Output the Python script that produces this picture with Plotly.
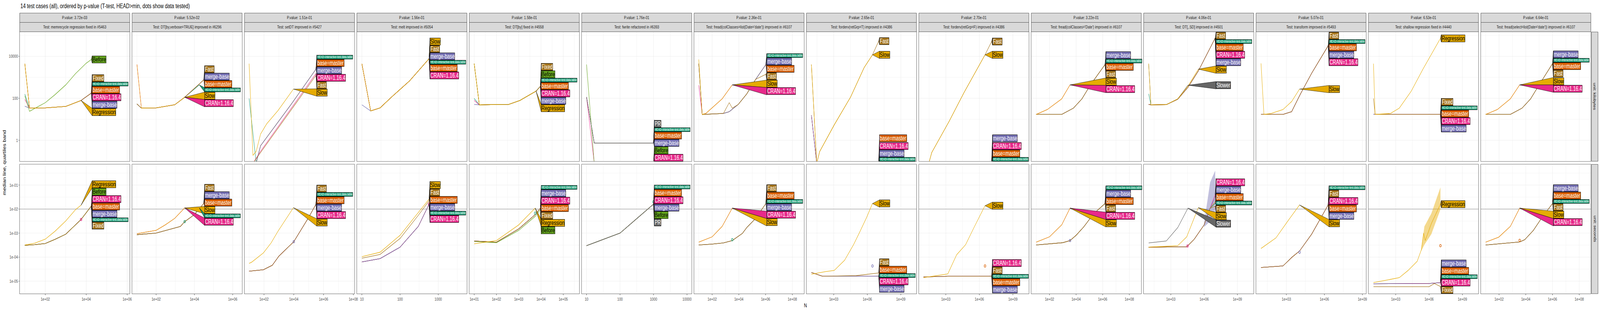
import math
import plotly.graph_objects as go

# ---------------- facet strips ----------------
pvalues = ["3.72e-03", "5.52e-02", "1.51e-01", "1.56e-01", "1.58e-01", "1.76e-01", "2.36e-01",
           "2.65e-01", "2.70e-01", "3.22e-01", "4.06e-01", "5.07e-01", "6.53e-01", "6.64e-01"]
tests = ["memrecycle regression fixed in #5463", "DT[by,verbose=TRUE] improved in #6296",
         "setDT improved in #5427", "melt improved in #5054", "DT[by] fixed in #4558",
         "fwrite refactored in #6393", "fread(colClasses=list(Date='date')) improved in #6107",
         "forderv(retGrp=T) improved in #4386", "forderv(retGrp=F) improved in #4386",
         "fread(colClasses='Date') improved in #6107", "DT[,.SD] improved in #4501",
         "transform improved in #5493", "shallow regression fixed in #4440",
         "fread(select=list(Date='date')) improved in #6107"]
row_units = ["unit: kilobytes", "unit: seconds"]

# x axis (log10 range) and ticks per column
x_ranges = [[0.75, 6.125], [0.746, 6.49], [0.69, 8.08], [0.87, 3.75], [0.78, 5.72], [0.855, 4.14],
            [0.65, 8.88], [0.56, 10.4], [0.59, 10.43], [0.63, 8.9], [0.55, 10.47], [0.61, 9.29],
            [0.55, 10.44], [0.64, 8.87]]
x_tick_exp = [[2, 4, 6], [2, 4, 6], [2, 4, 6, 8], [1, 2, 3], [1, 2, 3, 4, 5], [1, 2, 3, 4],
              [2, 4, 6, 8], [3, 6, 9], [3, 6, 9], [2, 4, 6, 8], [3, 6, 9], [3, 6, 9], [3, 6, 9],
              [2, 4, 6, 8]]
x_tick_text = [["1e+02", "1e+04", "1e+06"], ["1e+02", "1e+04", "1e+06"],
               ["1e+02", "1e+04", "1e+06", "1e+08"], ["10", "100", "1000"],
               ["1e+01", "1e+02", "1e+03", "1e+04", "1e+05"], ["10", "100", "1000", "10000"],
               ["1e+02", "1e+04", "1e+06", "1e+08"], ["1e+03", "1e+06", "1e+09"],
               ["1e+03", "1e+06", "1e+09"], ["1e+02", "1e+04", "1e+06", "1e+08"],
               ["1e+03", "1e+06", "1e+09"], ["1e+03", "1e+06", "1e+09"], ["1e+03", "1e+06", "1e+09"],
               ["1e+02", "1e+04", "1e+06", "1e+08"]]
y_ranges = [[-1.0, 5.16], [-5.52, -0.14]]
y_tick_exp = [[0, 2, 4], [-5, -4, -3, -2, -1]]
y_tick_text = [["1", "100", "10000"], ["1e-05", "1e-04", "1e-03", "1e-02", "1e-01"]]

HEAD = "HEAD=interactive-test.data.table"
BASE = "base=master"
MERGE = "merge-base"
CRAN = "CRAN=1.16.4"

# ---------------- data: N and median per series ----------------
# 1 memrecycle
p1_kb_n = [10, 17, 100, 1000, 5600, 17800]
p1_kb_head = [158, 34, 35, 41, 79, 178]
p1_kb_cran = [89, 34, 35, 41, 79, 178]
p1_kb_merge = [42, 34, 35, 41, 79, 178]
p1_kb_base = [4470, 34, 35, 41, 79, 178]
p1_kb_reg_n = [10, 17, 100, 1000, 5600]
p1_kb_reg = [4470, 34, 35, 41, 79]
p1_kb_before_n = [10, 17, 40, 100, 300, 1000, 3000, 10000, 17800]
p1_kb_before = [130, 24, 38, 62, 150, 436, 1500, 4700, 7080]
p1_sec_n = [10, 30, 100, 300, 1000, 3000, 5600, 17800]
p1_sec_all = [3.1e-4, 3.3e-4, 3.7e-4, 5.5e-4, 9e-4, 2.2e-3, 3.7e-3, 0.0134]
p1_sec_reg_n = [10, 30, 100, 300, 1000, 3000, 5600]
p1_sec_reg = [3.2e-4, 3.8e-4, 5.6e-4, 1.2e-3, 3.2e-3, 9.5e-3, 0.0145]

# 2 DT[by,verbose=TRUE]
p2_kb_slow_n = [10, 17, 100, 930, 3100]
p2_kb_slow = [4070, 34, 35, 49, 112]
p2_kb_n = [10, 17, 100, 930, 3100, 31000]
p2_kb_merge = [54, 34, 35, 49, 112, 760]
p2_kb_head_n = [10, 17, 100, 930, 3100, 18000]
p2_kb_head = [54, 34, 35, 49, 112, 436]
p2_sec_slow_n = [10, 100, 300, 930, 3100]
p2_sec_slow = [9.5e-4, 1.3e-3, 2.2e-3, 4.1e-3, 0.0112]
p2_sec_n = [10, 100, 1860, 3100, 10000, 31000]
p2_sec_all = [8.6e-4, 1.0e-3, 1.9e-3, 3.0e-3, 5.9e-3, 0.0174]
p2_sec_head_n = [10, 100, 1860, 3100, 10000, 18000]
p2_sec_head = [8.6e-4, 1.0e-3, 1.9e-3, 3.0e-3, 5.9e-3, 0.0112]

# 3 setDT
p3_kb_slow_n = [10, 18, 30, 59, 150, 870, 9500]
p3_kb_slow = [4470, 0.19, 0.3, 2.0, 6.0, 26, 275]
p3_kb_n = [10, 30, 59, 6600, 310000]
p3_kb_merge = [0.08, 0.09, 0.55, 51, 2450]
p3_kb_head = [98, 0.08, 0.55, 51, 2450]
p3_kb_fast_n = [10, 18, 59, 310000]
p3_kb_fast = [0.08, 0.08, 0.26, 1230]
p3_kb_cran = [0.08, 0.08, 0.3, 1500]
p3_sec_slow_n = [10, 15, 91, 300, 870, 9500]
p3_sec_slow = [5.5e-5, 6.2e-5, 1.5e-4, 3.9e-4, 1.2e-3, 0.0115]
p3_sec_n = [10, 91, 360, 1000, 10000, 100000, 310000]
p3_sec_all = [2.6e-5, 3e-5, 4.6e-5, 1.1e-4, 4.4e-4, 4.5e-3, 0.016]

# 4 melt
p4_kb_n = [10, 17, 30, 60, 178, 575]
p4_kb_all = [4470, 25, 35, 115, 680, 7700]
p4_kb_merge = [49, 25, 35, 115, 680, 7700]
p4_sec_n = [10, 30, 100, 300, 575]
p4_sec_slow = [1.05e-4, 1.6e-4, 8.1e-4, 7e-3, 0.026]
p4_sec_fast = [9e-5, 1.3e-4, 6e-4, 5.5e-3, 0.022]
p4_sec_all = [6.3e-5, 8.7e-5, 2.6e-4, 1.9e-3, 0.016]

# 5 DT[by]
p5_kb_reg_n = [10, 17, 350, 1130, 6000]
p5_kb_reg = [4470, 49, 51, 79, 220]
p5_kb_n = [10, 17, 350, 1130, 6000, 9400]
p5_kb_head = [98, 49, 51, 79, 220, 370]
p5_kb_cran = [79, 49, 51, 79, 220, 370]
p5_kb_merge = [51, 49, 51, 79, 220, 370]
p5_kb_base = [4470, 49, 51, 79, 220, 370]
p5_sec_reg_n = [10, 100, 1000, 5500]
p5_sec_reg = [3.6e-4, 4.9e-4, 2.2e-3, 0.011]
p5_sec_n = [10, 100, 1000, 5500, 9400]
p5_sec_all = [4.7e-4, 4.2e-4, 1.5e-3, 5.9e-3, 0.011]
p5_sec_before = [4.5e-4, 4e-4, 1.3e-3, 5e-3, 0.0095]

# 6 fwrite
p6_kb_n = [10, 17, 1000]
p6_kb_pr = [115, 0.74, 0.74]
p6_kb_before = [4070, 0.08, 0.08]
p6_kb_cran = [115, 0.08, 0.08]
p6_sec_n = [10, 100, 315, 1000]
p6_sec_all = [3e-4, 1.0e-3, 4e-3, 0.016]

# 7 fread(colClasses=list(Date='date'))
p7_kb_slow_n = [10, 18, 34, 96, 560, 3200]
p7_kb_slow = [7080, 17, 19, 34, 94, 436]
p7_kb_cran = [420, 17, 19, 34, 94, 436]
p7_kb_n = [10, 18, 700, 1900, 9000, 39000, 180000, 1050000]
p7_kb_merge = [4470, 17, 19, 23, 51, 162, 800, 4070]
p7_kb_fast_n = [10, 18, 700, 1900, 3200, 9000, 39000, 180000, 1050000]
p7_kb_fast = [4470, 17, 19, 62, 34, 51, 162, 800, 1400]
p7_sec_slow_n = [10, 100, 560, 3200]
p7_sec_slow = [4.2e-4, 7e-4, 1.9e-3, 0.011]
p7_sec_n = [10, 100, 700, 3200, 18600, 39000, 180000, 1050000]
p7_sec_all = [3.2e-4, 3.5e-4, 3.9e-4, 4.9e-4, 9.8e-4, 1.7e-3, 4.1e-3, 0.017]

# 8 forderv(retGrp=T)
p8_kb_slow_n = [10, 30, 55, 1100, 32000, 520000, 2900000]
p8_kb_slow = [4070, 0.08, 0.29, 5.4, 115, 2900, 11800]
p8_kb_fast_n = [10, 30, 55, 1100, 32000, 520000, 2900000, 10500000]
p8_kb_fast = [4070, 0.08, 0.29, 5.4, 115, 2900, 11800, 53000]
p8_kb_n = [10, 30, 10500000]
p8_kb_flat = [15.5, 0.08, 0.08]
p8_sec_slow_n = [10, 190, 1100, 9300, 59000, 190000, 890000, 2900000]
p8_sec_slow = [1.95e-5, 2.5e-5, 2.8e-5, 7.4e-5, 3.3e-4, 1.0e-3, 4.6e-3, 0.017]
p8_sec_n = [10, 100, 100000, 10500000]
p8_sec_flat = [2.3e-5, 1.6e-5, 1.6e-5, 1.6e-5]
p8_sec_fast = [2.3e-5, 1.6e-5, 1.7e-5, 2.2e-5]

# 9 forderv(retGrp=F)
p9_kb_slow_n = [10, 30, 55, 2000, 42000, 630000, 3200000]
p9_kb_slow = [0.08, 0.08, 0.26, 8.1, 186, 2450, 11800]
p9_kb_fast_n = [10, 30, 55, 2000, 42000, 630000, 3200000, 12600000]
p9_kb_fast = [0.08, 0.08, 0.26, 8.1, 186, 2450, 11800, 51000]
p9_kb_n = [10, 12600000]
p9_kb_flat = [0.08, 0.08]
p9_sec_slow_n = [10, 1500, 9300, 59000, 350000, 3200000]
p9_sec_slow = [1.4e-5, 2e-5, 1.26e-4, 3.3e-4, 1.8e-3, 0.0138]
p9_sec_n = [10, 1500, 12600000]
p9_sec_flat = [1.5e-5, 1.6e-5, 1.6e-5]

# 10 fread(colClasses='Date')
p10_kb_slow_n = [10, 68, 830, 3500]
p10_kb_slow = [17, 29, 94, 436]
p10_kb_n = [10, 830, 6300, 27500, 120000, 1500000]
p10_kb_all = [17, 17, 34, 94, 436, 4070]
p10_sec_slow_n = [10, 100, 830, 3500]
p10_sec_slow = [4.2e-4, 7e-4, 2.2e-3, 0.011]
p10_sec_n = [10, 1000, 3500, 10000, 37000, 220000, 1500000]
p10_sec_all = [3.2e-4, 4e-4, 4.9e-4, 8.1e-4, 1.8e-3, 6.6e-3, 0.017]

# 11 DT[,.SD]
p11_kb_slower_n = [10, 16, 390, 4200, 35000]
p11_kb_slower = [4470, 49, 50, 94, 420]
p11_kb_slow_n = [10, 16, 390, 4200, 35000, 300000]
p11_kb_slow = [4470, 49, 50, 94, 380, 2450]
p11_kb_n = [10, 16, 390, 4200, 35000, 300000, 10000000]
p11_kb_head = [162, 49, 50, 90, 330, 2000, 74000]
p11_kb_merge = [51, 49, 50, 90, 330, 2000, 74000]
p11_sec_slower_n = [10, 390, 4200, 35000]
p11_sec_slower = [3.9e-4, 4.7e-4, 1.7e-3, 0.011]
p11_sec_slow_n = [10, 4200, 27000, 300000]
p11_sec_slow = [2.6e-4, 3e-4, 7e-4, 0.0115]
p11_sec_n = [10, 27000, 130000, 1000000, 3500000, 10000000]
p11_sec_cran = [2.6e-4, 2.7e-4, 5.6e-4, 2.2e-3, 0.011, 0.04]
p11_sec_merge = [2.6e-4, 2.7e-4, 5.6e-4, 2.2e-3, 0.011, 0.03]
p11_sec_base = [2.6e-4, 2.7e-4, 5.6e-4, 2.2e-3, 0.011, 0.02]
p11_sec_head = [2.6e-4, 2.7e-4, 5.6e-4, 2.2e-3, 0.011, 0.017]
p11_sec_fast = [2.6e-4, 2.7e-4, 5.6e-4, 2.2e-3, 0.011, 0.013]
p11_band_n = [1000000, 3500000, 10000000]
p11_band_lo = [1.8e-3, 3.1e-3, 8.5e-3]
p11_band_hi = [2.6e-3, 0.13, 0.4]

# 12 transform
p12_kb_slow_n = [10, 17, 63, 540, 2600, 11000]
p12_kb_slow = [4600, 17, 19, 29, 70, 275]
p12_kb_n = [10, 540, 2600, 13000, 100000, 2000000]
p12_kb_all = [17, 17, 23, 162, 1580, 32000]
p12_sec_slow_n = [10, 150, 1260, 11000]
p12_sec_slow = [2.3e-4, 6.3e-4, 3.1e-3, 0.0149]
p12_sec_n = [10, 540, 2700, 11000, 100000, 2000000]
p12_sec_all = [3.7e-5, 4.3e-5, 9.8e-5, 1.8e-4, 9.1e-4, 0.0149]

# 13 shallow regression
p13_kb_reg_n = [10, 14, 340, 2100, 25000, 280000, 10500000]
p13_kb_reg = [4470, 17, 19, 34, 220, 2450, 72000]
p13_kb_n = [10, 14, 10500000]
p13_kb_fixed = [98, 17, 17]
p13_kb_flat = [17, 17, 17]
p13_sec_reg_n = [10, 2100, 13000, 85000, 200000, 320000, 450000, 900000, 1600000, 10500000]
p13_sec_reg = [8.7e-6, 1.4e-5, 2.8e-5, 6.7e-5, 2e-4, 1e-3, 4.9e-4, 1.2e-3, 2.5e-3, 0.016]
p13_sec_n = [10, 1000000, 10500000]
p13_sec_flat = [7.8e-6, 8e-6, 8.7e-6]
p13_sec_fixed_n = [10, 1000000, 3000000, 10500000]
p13_sec_fixed = [5.9e-6, 5.9e-6, 8e-6, 6e-6]
p13_band_n = [200000, 380000, 1600000, 10500000]
p13_band_lo = [1.8e-4, 3.3e-4, 9e-4, 9.6e-3]
p13_band_hi = [2.2e-4, 1.9e-3, 6.6e-3, 0.08]

# 14 fread(select=list(Date='date'))
p14_kb_slow_n = [10, 74, 700, 3500]
p14_kb_slow = [17, 29, 94, 436]
p14_kb_n = [10, 700, 5300, 23000, 100000, 1000000]
p14_kb_all = [17, 17, 34, 94, 436, 4470]
p14_sec_slow_n = [10, 95, 700, 3500]
p14_sec_slow = [4.2e-4, 6.8e-4, 1.9e-3, 0.011]
p14_sec_n = [10, 3500, 8300, 37000, 170000, 1000000]
p14_sec_all = [3.2e-4, 4.3e-4, 5.3e-4, 1.3e-3, 4.6e-3, 0.017]

# dots: data size tested (column, N, seconds, series)
dot_col = [0, 1, 2, 3, 4, 5, 6, 7, 8, 9, 10, 11, 12, 13]
dot_n = [5600, 3100, 10000, 575, 5500, 1000, 3200, 2900000, 3200000, 3500, 32000, 11000, 10500000, 3500]
dot_sec = [3.7e-3, 3.0e-3, 4.4e-4, 0.016, 6.8e-3, 0.02, 5.3e-4, 4.3e-5, 4.3e-5, 4.9e-4, 2.9e-4, 1.6e-4, 3e-4, 5e-4]
dot_series = [CRAN, HEAD, MERGE, CRAN, HEAD, HEAD, HEAD, MERGE, BASE, MERGE, CRAN, MERGE, BASE, BASE]

# quartile bands drawn in the seconds row (column, series, N, low, high)
bands = [(10, MERGE, p11_band_n, p11_band_lo, p11_band_hi),
         (12, "Regression", p13_band_n, p13_band_lo, p13_band_hi)]

# ---------------- per column table (label order top->bottom for ties) ----------------
panels = [
    dict(kb=[("Before", p1_kb_before_n, p1_kb_before), ("Fixed", p1_kb_n, p1_kb_base), (HEAD, p1_kb_n, p1_kb_head),
             (BASE, p1_kb_n, p1_kb_base), (CRAN, p1_kb_n, p1_kb_cran), (MERGE, p1_kb_n, p1_kb_merge),
             ("Regression", p1_kb_reg_n, p1_kb_reg)],
         sec=[("Regression", p1_sec_reg_n, p1_sec_reg), ("Before", p1_sec_n, p1_sec_all), (CRAN, p1_sec_n, p1_sec_all),
              (BASE, p1_sec_n, p1_sec_all), (MERGE, p1_sec_n, p1_sec_all), (HEAD, p1_sec_n, p1_sec_all),
              ("Fixed", p1_sec_n, p1_sec_all)]),
    dict(kb=[("Fast", p2_kb_n, p2_kb_merge), (MERGE, p2_kb_n, p2_kb_merge), (BASE, p2_kb_n, p2_kb_merge),
             (HEAD, p2_kb_head_n, p2_kb_head), ("Slow", p2_kb_slow_n, p2_kb_slow), (CRAN, p2_kb_slow_n, p2_kb_slow)],
         sec=[("Fast", p2_sec_n, p2_sec_all), (MERGE, p2_sec_n, p2_sec_all), (BASE, p2_sec_n, p2_sec_all),
              ("Slow", p2_sec_slow_n, p2_sec_slow), (HEAD, p2_sec_head_n, p2_sec_head), (CRAN, p2_sec_slow_n, p2_sec_slow)]),
    dict(kb=[(HEAD, p3_kb_n, p3_kb_head), (BASE, p3_kb_n, p3_kb_merge), (MERGE, p3_kb_n, p3_kb_merge),
             (CRAN, p3_kb_fast_n, p3_kb_cran), ("Fast", p3_kb_fast_n, p3_kb_fast), ("Slow", p3_kb_slow_n, p3_kb_slow)],
         sec=[("Fast", p3_sec_n, p3_sec_all), (HEAD, p3_sec_n, p3_sec_all), (BASE, p3_sec_n, p3_sec_all),
              (MERGE, p3_sec_n, p3_sec_all), (CRAN, p3_sec_n, p3_sec_all), ("Slow", p3_sec_slow_n, p3_sec_slow)]),
    dict(kb=[("Slow", p4_kb_n, p4_kb_all), ("Fast", p4_kb_n, p4_kb_all), (MERGE, p4_kb_n, p4_kb_merge),
             (HEAD, p4_kb_n, p4_kb_all), (BASE, p4_kb_n, p4_kb_all), (CRAN, p4_kb_n, p4_kb_all)],
         sec=[("Slow", p4_sec_n, p4_sec_slow), ("Fast", p4_sec_n, p4_sec_fast), (BASE, p4_sec_n, p4_sec_all),
              (MERGE, p4_sec_n, p4_sec_all), (HEAD, p4_sec_n, p4_sec_all), (CRAN, p4_sec_n, p4_sec_all)]),
    dict(kb=[("Fixed", p5_kb_n, p5_kb_base), ("Before", p5_kb_n, p5_kb_base), (HEAD, p5_kb_n, p5_kb_head),
             (BASE, p5_kb_n, p5_kb_base), (CRAN, p5_kb_n, p5_kb_cran), (MERGE, p5_kb_n, p5_kb_merge),
             ("Regression", p5_kb_reg_n, p5_kb_reg)],
         sec=[(HEAD, p5_sec_n, p5_sec_all), (MERGE, p5_sec_n, p5_sec_all), (CRAN, p5_sec_n, p5_sec_all),
              (BASE, p5_sec_n, p5_sec_all), ("Fixed", p5_sec_n, p5_sec_all), ("Regression", p5_sec_reg_n, p5_sec_reg),
              ("Before", p5_sec_n, p5_sec_before)]),
    dict(kb=[("PR", p6_kb_n, p6_kb_pr), (HEAD, p6_kb_n, p6_kb_pr), (BASE, p6_kb_n, p6_kb_pr),
             (MERGE, p6_kb_n, p6_kb_pr), ("Before", p6_kb_n, p6_kb_before), (CRAN, p6_kb_n, p6_kb_cran)],
         sec=[(HEAD, p6_sec_n, p6_sec_all), (BASE, p6_sec_n, p6_sec_all), (CRAN, p6_sec_n, p6_sec_all),
              (MERGE, p6_sec_n, p6_sec_all), ("Before", p6_sec_n, p6_sec_all), ("PR", p6_sec_n, p6_sec_all)]),
    dict(kb=[(HEAD, p7_kb_n, p7_kb_merge), (MERGE, p7_kb_n, p7_kb_merge), (BASE, p7_kb_n, p7_kb_merge),
             ("Fast", p7_kb_fast_n, p7_kb_fast), ("Slow", p7_kb_slow_n, p7_kb_slow), (CRAN, p7_kb_slow_n, p7_kb_cran)],
         sec=[("Fast", p7_sec_n, p7_sec_all), (BASE, p7_sec_n, p7_sec_all), (HEAD, p7_sec_n, p7_sec_all),
              (MERGE, p7_sec_n, p7_sec_all), (CRAN, p7_sec_slow_n, p7_sec_slow), ("Slow", p7_sec_slow_n, p7_sec_slow)]),
    dict(kb=[("Fast", p8_kb_fast_n, p8_kb_fast), ("Slow", p8_kb_slow_n, p8_kb_slow), (HEAD, p8_kb_n, p8_kb_flat),
             (BASE, p8_kb_n, p8_kb_flat), (CRAN, p8_kb_n, p8_kb_flat), (MERGE, p8_kb_n, p8_kb_flat)],
         sec=[("Slow", p8_sec_slow_n, p8_sec_slow), ("Fast", p8_sec_n, p8_sec_fast), (BASE, p8_sec_n, p8_sec_flat),
              (HEAD, p8_sec_n, p8_sec_flat), (CRAN, p8_sec_n, p8_sec_flat), (MERGE, p8_sec_n, p8_sec_flat)]),
    dict(kb=[("Fast", p9_kb_fast_n, p9_kb_fast), ("Slow", p9_kb_slow_n, p9_kb_slow), (MERGE, p9_kb_n, p9_kb_flat),
             (HEAD, p9_kb_n, p9_kb_flat), (CRAN, p9_kb_n, p9_kb_flat), (BASE, p9_kb_n, p9_kb_flat)],
         sec=[("Slow", p9_sec_slow_n, p9_sec_slow), (CRAN, p9_sec_n, p9_sec_flat), ("Fast", p9_sec_n, p9_sec_flat),
              (HEAD, p9_sec_n, p9_sec_flat), (BASE, p9_sec_n, p9_sec_flat), (MERGE, p9_sec_n, p9_sec_flat)]),
    dict(kb=[(MERGE, p10_kb_n, p10_kb_all), (HEAD, p10_kb_n, p10_kb_all), (BASE, p10_kb_n, p10_kb_all),
             ("Fast", p10_kb_n, p10_kb_all), ("Slow", p10_kb_slow_n, p10_kb_slow), (CRAN, p10_kb_slow_n, p10_kb_slow)],
         sec=[(HEAD, p10_sec_n, p10_sec_all), (MERGE, p10_sec_n, p10_sec_all), (BASE, p10_sec_n, p10_sec_all),
              ("Fast", p10_sec_n, p10_sec_all), (CRAN, p10_sec_slow_n, p10_sec_slow), ("Slow", p10_sec_slow_n, p10_sec_slow)]),
    dict(kb=[("Fast", p11_kb_n, p11_kb_merge), (HEAD, p11_kb_n, p11_kb_head), (BASE, p11_kb_n, p11_kb_merge),
             (CRAN, p11_kb_n, p11_kb_merge), (MERGE, p11_kb_n, p11_kb_merge), ("Slow", p11_kb_slow_n, p11_kb_slow),
             ("Slower", p11_kb_slower_n, p11_kb_slower)],
         sec=[(CRAN, p11_sec_n, p11_sec_cran), (MERGE, p11_sec_n, p11_sec_merge), (BASE, p11_sec_n, p11_sec_base),
              (HEAD, p11_sec_n, p11_sec_head), ("Fast", p11_sec_n, p11_sec_fast), ("Slow", p11_sec_slow_n, p11_sec_slow),
              ("Slower", p11_sec_slower_n, p11_sec_slower)]),
    dict(kb=[("Fast", p12_kb_n, p12_kb_all), (HEAD, p12_kb_n, p12_kb_all), (BASE, p12_kb_n, p12_kb_all),
             (MERGE, p12_kb_n, p12_kb_all), (CRAN, p12_kb_n, p12_kb_all), ("Slow", p12_kb_slow_n, p12_kb_slow)],
         sec=[(HEAD, p12_sec_n, p12_sec_all), ("Fast", p12_sec_n, p12_sec_all), (CRAN, p12_sec_n, p12_sec_all),
              (BASE, p12_sec_n, p12_sec_all), (MERGE, p12_sec_n, p12_sec_all), ("Slow", p12_sec_slow_n, p12_sec_slow)]),
    dict(kb=[("Regression", p13_kb_reg_n, p13_kb_reg), ("Fixed", p13_kb_n, p13_kb_fixed), (HEAD, p13_kb_n, p13_kb_flat),
             (BASE, p13_kb_n, p13_kb_flat), (CRAN, p13_kb_n, p13_kb_flat), (MERGE, p13_kb_n, p13_kb_flat)],
         sec=[("Regression", p13_sec_reg_n, p13_sec_reg), (MERGE, p13_sec_n, p13_sec_flat), (BASE, p13_sec_n, p13_sec_flat),
              (HEAD, p13_sec_n, p13_sec_flat), (CRAN, p13_sec_n, p13_sec_flat), ("Fixed", p13_sec_fixed_n, p13_sec_fixed)]),
    dict(kb=[(MERGE, p14_kb_n, p14_kb_all), (HEAD, p14_kb_n, p14_kb_all), (BASE, p14_kb_n, p14_kb_all),
             ("Fast", p14_kb_n, p14_kb_all), ("Slow", p14_kb_slow_n, p14_kb_slow), (CRAN, p14_kb_slow_n, p14_kb_slow)],
         sec=[(MERGE, p14_sec_n, p14_sec_all), (BASE, p14_sec_n, p14_sec_all), (HEAD, p14_sec_n, p14_sec_all),
              ("Fast", p14_sec_n, p14_sec_all), ("Slow", p14_sec_slow_n, p14_sec_slow), (CRAN, p14_sec_slow_n, p14_sec_slow)]),
]

colours = {HEAD: "#1B9E77", BASE: "#D95F02", MERGE: "#7570B3", CRAN: "#E7298A", "Before": "#66A61E",
           "Regression": "#E6AB02", "Slow": "#E6AB02", "Fixed": "#A6761D", "Fast": "#A6761D",
           "Slower": "#666666", "PR": "#666666"}
dark_text = {"Before", "Regression", "Slow"}
draw_rank = [HEAD, BASE, CRAN, MERGE, "Before", "Fixed", "Fast", "Slower", "PR", "Regression", "Slow"]

# ---------------- geometry ----------------
W, H = 5600, 800
ML, MR, MT, MB = 69, 32, 82, 47
PW, PH = W - ML - MR, H - MT - MB
NCOL = 14
COL_W = 385.0
COL_GAP = (PW - NCOL * COL_W) / (NCOL - 1)
ROW_GAP = 8.0
ROW_H = (PH - ROW_GAP) / 2.0
ROW_TOP = [MT, MT + ROW_H + ROW_GAP]
FONT = "Liberation Sans"


def px_x(px):
    return (px - ML) / PW


def px_y(py):
    return (MT + PH - py) / PH


def rgba(hex_colour, alpha):
    h = hex_colour.lstrip("#")
    return "rgba(%d,%d,%d,%.2f)" % (int(h[0:2], 16), int(h[2:4], 16), int(h[4:6], 16), alpha)


def stack_labels(desired, heights, lo, hi):
    # pool overlapping labels into blocks, keep order, then clamp in panel
    blocks = []
    for i, d in enumerate(desired):
        blocks.append([[i], d - heights[i] / 2])
        while len(blocks) > 1:
            prev, cur = blocks[-2], blocks[-1]
            if prev[1] + sum(heights[j] for j in prev[0]) <= cur[1]:
                break
            members = prev[0] + cur[0]
            off, acc = 0.0, 0.0
            for j in members:
                acc += desired[j] - (off + heights[j] / 2)
                off += heights[j]
            blocks[-2:] = [[members, acc / len(members)]]
    limit = hi
    for b in reversed(blocks):
        size = sum(heights[j] for j in b[0])
        if b[1] + size > limit:
            b[1] = limit - size
        limit = b[1]
    limit = lo
    for b in blocks:
        size = sum(heights[j] for j in b[0])
        if b[1] < limit:
            b[1] = limit
        limit = b[1] + size
    centers = [0] * len(desired)
    for b in blocks:
        y = b[1]
        for j in b[0]:
            centers[j] = y + heights[j] / 2
            y += heights[j]
    return centers


fig = go.Figure()
annotations = []
shapes = []
layout_axes = {}

for c in range(NCOL):
    spec = panels[c]
    r0, r1 = x_ranges[c]
    left = ML + c * (COL_W + COL_GAP)
    pxdec_x = COL_W / (r1 - r0)
    n_max = max(max(s[1]) for row in ("kb", "sec") for s in spec[row])
    label_px = left + (math.log10(n_max) - r0) * pxdec_x + 3
    label_n = 10 ** (r0 + (label_px - left) / pxdec_x)
    xstep = x_tick_exp[c][1] - x_tick_exp[c][0]
    xminor = [10 ** (t - xstep / 2) for t in x_tick_exp[c]] + [10 ** (x_tick_exp[c][-1] + xstep / 2)]

    for r, row in enumerate(("kb", "sec")):
        k = r * NCOL + c + 1
        xa = "x" if k == 1 else "x%d" % k
        ya = "y" if k == 1 else "y%d" % k
        y0, y1 = y_ranges[r]
        top = ROW_TOP[r]
        pxdec_y = ROW_H / (y1 - y0)
        series = spec[row]

        if r == 1:
            fig.add_trace(go.Scatter(x=[10 ** r0, 10 ** r1], y=[0.01, 0.01], mode="lines",
                                     line=dict(color="#b8b8b8", width=1.6), xaxis=xa, yaxis=ya,
                                     showlegend=False, hoverinfo="skip"))
            for bc, bname, bn, blo, bhi in bands:
                if bc == c:
                    fig.add_trace(go.Scatter(x=bn + bn[::-1], y=blo + bhi[::-1], mode="lines", fill="toself",
                                             fillcolor=rgba(colours[bname], 0.45), line=dict(width=0),
                                             xaxis=xa, yaxis=ya, showlegend=False, hoverinfo="skip"))

        for name, n, v in sorted(series, key=lambda s: draw_rank.index(s[0])):
            fig.add_trace(go.Scatter(x=n, y=v, mode="lines", line=dict(color=colours[name], width=1.3),
                                     xaxis=xa, yaxis=ya, showlegend=False, hoverinfo="skip"))

        if r == 1:
            for dc, dn, dv, ds in zip(dot_col, dot_n, dot_sec, dot_series):
                if dc == c:
                    fig.add_trace(go.Scatter(x=[dn], y=[dv], mode="markers",
                                             marker=dict(symbol="circle-open", size=6, color=colours[ds],
                                                         line=dict(width=1.5)),
                                             xaxis=xa, yaxis=ya, showlegend=False, hoverinfo="skip"))

        # direct labels
        items = []
        for i, (name, n, v) in enumerate(series):
            h = 11 if name == HEAD else 19
            d = top + (y1 - math.log10(v[-1])) * pxdec_y
            d = min(max(d, top + h / 2), top + ROW_H - h / 2)
            items.append((d, i, name, n, v, h))
        items.sort(key=lambda t: (t[0], t[1]))
        centers = stack_labels([t[0] for t in items], [t[5] for t in items], top, top + ROW_H)
        for (d, i, name, n, v, h), cy in zip(items, centers):
            ytop = 10 ** (y1 - (cy - h / 2 - top) / pxdec_y)
            ybot = 10 ** (y1 - (cy + h / 2 - top) / pxdec_y)
            fig.add_trace(go.Scatter(x=[n[-1], label_n, label_n, n[-1]], y=[v[-1], ytop, ybot, v[-1]],
                                     mode="lines", fill="toself", fillcolor=colours[name],
                                     line=dict(color="black", width=0.8), xaxis=xa, yaxis=ya,
                                     showlegend=False, hoverinfo="skip"))
            small = name == HEAD
            annotations.append(dict(
                x=px_x(label_px), y=px_y(cy), xref="paper", yref="paper", xanchor="left", yanchor="middle",
                text=name, showarrow=False, bgcolor=colours[name], bordercolor="black", borderwidth=1,
                borderpad=0, height=9 if small else 17,
                font=dict(family=FONT, size=8.5 if small else 16,
                          color="black" if name in dark_text else "white")))

        ystep = y_tick_exp[r][1] - y_tick_exp[r][0]
        yminor = [10 ** (t - ystep / 2) for t in y_tick_exp[r]] + [10 ** (y_tick_exp[r][-1] + ystep / 2)]
        xdom = [px_x(left), px_x(left + COL_W)]
        ydom = [px_y(top + ROW_H), px_y(top)]
        layout_axes["xaxis" if k == 1 else "xaxis%d" % k] = dict(
            type="log", range=[r0, r1], domain=xdom, anchor=ya, tickmode="array",
            tickvals=[10 ** t for t in x_tick_exp[c]], ticktext=x_tick_text[c],
            showticklabels=(r == 1), ticks="outside" if r == 1 else "", ticklen=3, tickcolor="#333333",
            showgrid=True, gridcolor="#ebebeb", gridwidth=1.2,
            minor=dict(tickmode="array", tickvals=xminor, showgrid=True, gridcolor="#f2f2f2", gridwidth=0.6,
                       ticks=""),
            showline=True, mirror=True, linecolor="#555555", linewidth=1, zeroline=False,
            tickfont=dict(family=FONT, size=11.5, color="#4d4d4d"))
        layout_axes["yaxis" if k == 1 else "yaxis%d" % k] = dict(
            type="log", range=[y0, y1], domain=ydom, anchor=xa, tickmode="array",
            tickvals=[10 ** t for t in y_tick_exp[r]], ticktext=y_tick_text[r],
            showticklabels=(c == 0), ticks="outside" if c == 0 else "", ticklen=3, tickcolor="#333333",
            showgrid=True, gridcolor="#ebebeb", gridwidth=1.2,
            minor=dict(tickmode="array", tickvals=yminor, showgrid=True, gridcolor="#f2f2f2", gridwidth=0.6,
                       ticks=""),
            showline=True, mirror=True, linecolor="#555555", linewidth=1, zeroline=False,
            tickfont=dict(family=FONT, size=11.5, color="#4d4d4d"))

    # strips above the column
    for (s0, s1), txt in zip([(33.5, 57.5), (57.5, 81.5)], ["P.value: " + pvalues[c], "Test: " + tests[c]]):
        shapes.append(dict(type="rect", xref="paper", yref="paper", x0=px_x(left), x1=px_x(left + COL_W),
                           y0=px_y(s1), y1=px_y(s0), fillcolor="#d9d9d9",
                           line=dict(color="#444444", width=1), layer="below"))
        annotations.append(dict(x=px_x(left + COL_W / 2), y=px_y((s0 + s1) / 2), xref="paper", yref="paper",
                                text=txt, showarrow=False, xanchor="center", yanchor="middle",
                                font=dict(family=FONT, size=11.5, color="#1a1a1a")))

# right-hand row strips
for r in range(2):
    top = ROW_TOP[r]
    shapes.append(dict(type="rect", xref="paper", yref="paper", x0=px_x(ML + PW + 2), x1=px_x(ML + PW + 25),
                       y0=px_y(top + ROW_H), y1=px_y(top), fillcolor="#d9d9d9",
                       line=dict(color="#444444", width=1), layer="below"))
    annotations.append(dict(x=px_x(ML + PW + 13.5), y=px_y(top + ROW_H / 2), xref="paper", yref="paper",
                            text=row_units[r], showarrow=False, textangle=90, xanchor="center", yanchor="middle",
                            font=dict(family=FONT, size=11.5, color="#1a1a1a")))

# titles
annotations.append(dict(x=0, y=px_y(15), xref="paper", yref="paper", xanchor="left", yanchor="middle",
                        showarrow=False,
                        text="14 test cases (all), ordered by p-value (T-test, HEAD>min, dots show data tested)",
                        font=dict(family=FONT, size=16.5, color="black")))
annotations.append(dict(x=px_x(15), y=0.5, xref="paper", yref="paper", xanchor="center", yanchor="middle",
                        showarrow=False, textangle=-90, text="median line, quartiles band",
                        font=dict(family=FONT, size=14, color="black")))
annotations.append(dict(x=0.5, y=px_y(783), xref="paper", yref="paper", xanchor="center", yanchor="middle",
                        showarrow=False, text="N", font=dict(family=FONT, size=14, color="black")))

fig.update_layout(width=W, height=H, margin=dict(l=ML, r=MR, t=MT, b=MB, autoexpand=False),
                  paper_bgcolor="white", plot_bgcolor="white", showlegend=False,
                  font=dict(family=FONT), annotations=annotations, shapes=shapes, **layout_axes)

# page setup: no body margin; if the window is smaller than 5600x800, squeeze the figure to fill it
fit_js = """
document.body.style.margin = '0px';
document.body.style.overflow = 'hidden';
var gd = document.getElementById('{plot_id}');
var sx = Math.min(window.innerWidth / 5600, 1);
var sy = Math.min(window.innerHeight / 800, 1);
if (sx < 1 || sy < 1) {
  gd.style.transformOrigin = '0 0';
  gd.style.transform = 'scale(' + sx + ',' + sy + ')';
}
"""
fig.write_html("out.html", post_script=fit_js, config={"displayModeBar": False})
